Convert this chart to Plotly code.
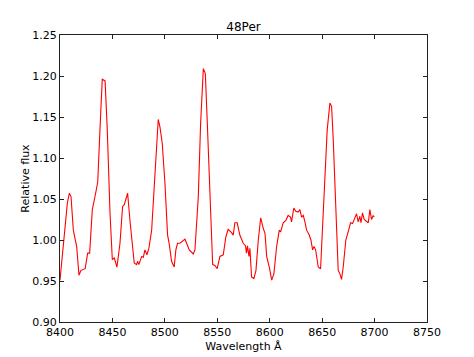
import plotly.graph_objects as go

wavelength = [8400, 8404.8, 8407, 8408.9, 8410.5, 8412.7, 8415.9, 8418.1, 8420, 8424, 8426.4, 8428.3,
              8430.8, 8434, 8436, 8438.1, 8440.3, 8443, 8445.1, 8447.7, 8449.9, 8451.8, 8454.3, 8457.2,
              8459.7, 8461.3, 8462.9, 8464.5, 8466.7, 8468.9, 8470.8, 8473, 8474, 8475.2, 8477.9, 8479.5,
              8481, 8482.9, 8484.8, 8487.4, 8489.8, 8491.5, 8493.7, 8495.3, 8497.5, 8500.1, 8502.6, 8504.2,
              8506.4, 8508.9, 8510.5, 8512.1, 8514.4, 8519.2, 8523.3, 8527.1, 8528.7, 8531.9, 8534.1,
              8536.7, 8538.6, 8540.5, 8543.1, 8545.6, 8547.8, 8549.9, 8552.5, 8555.7, 8558.2, 8560.4,
              8563.6, 8565.2, 8566.8, 8569, 8571.5, 8574.7, 8576.9, 8577.8, 8578.8, 8580.2, 8581.1,
              8582.7, 8584.9, 8586.9, 8589.1, 8591.4, 8593.9, 8595.5, 8597.1, 8599.6, 8601.9, 8604,
              8606.6, 8609.1, 8610.4, 8612.9, 8615.4, 8617.6, 8619.8, 8620.8, 8623, 8624.9, 8627.1,
              8628.8, 8630.4, 8632, 8633.6, 8635.2, 8637.7, 8639.3, 8640.9, 8642.2, 8643.8, 8646.3,
              8648.5, 8650.5, 8652.6, 8654.8, 8657.4, 8659, 8660.6, 8663.1, 8665.3, 8666.9, 8668.5,
              8670.1, 8672.6, 8674.8, 8677.1, 8679, 8681.2, 8682.8, 8684.4, 8686, 8687, 8688.5, 8690.1,
              8692.4, 8694, 8695.5, 8697.1, 8698.7, 8699.6]
flux = [0.951, 1.022, 1.045, 1.057, 1.053, 1.012, 0.992, 0.957, 0.963, 0.965, 0.984, 0.984,
        1.037, 1.057, 1.071, 1.134, 1.196, 1.194, 1.134, 1.033, 0.976, 0.978, 0.967, 0.996,
        1.041, 1.043, 1.051, 1.057, 1.024, 1.000, 0.972, 0.970, 0.974, 0.970, 0.980, 0.979,
        0.988, 0.982, 0.990, 1.012, 1.065, 1.102, 1.147, 1.138, 1.118, 1.069, 1.006, 0.995,
        0.974, 0.967, 0.988, 0.996, 0.996, 1.001, 0.988, 0.983, 0.988, 1.053, 1.142,
        1.209, 1.203, 1.142, 1.045, 0.970, 0.969, 0.965, 0.980, 0.982, 1.004, 1.013,
        1.009, 1.006, 1.021, 1.021, 1.006, 0.996, 0.993, 0.984, 0.993, 0.980, 0.990,
        0.955, 0.953, 0.963, 1.000, 1.027, 1.014, 1.008, 0.980, 0.967, 0.951, 0.959,
        0.992, 1.012, 1.010, 1.021, 1.024, 1.030, 1.028, 1.022, 1.039, 1.035, 1.034,
        1.037, 1.028, 1.030, 1.022, 1.012, 1.006, 1.000, 0.988, 0.992, 0.988, 0.967,
        0.965, 1.016, 1.085, 1.134, 1.167, 1.163, 1.122, 1.041, 0.963, 0.959, 0.952,
        0.967, 1.000, 1.010, 1.021, 1.020, 1.027, 1.032, 1.022, 1.029, 1.021, 1.033, 1.025,
        1.022, 1.021, 1.037, 1.025, 1.030, 1.028]

x_ticks = [8400, 8450, 8500, 8550, 8600, 8650, 8700, 8750]
y_ticks = [0.90, 0.95, 1.00, 1.05, 1.10, 1.15, 1.20, 1.25]

fig = go.Figure()
fig.add_trace(go.Scatter(x=wavelength, y=flux, mode="lines",
                         line=dict(color="#ff0000", width=1.1), showlegend=False))

axis_common = dict(showline=True, linecolor="#222222", linewidth=1, mirror="ticks",
                   ticks="inside", ticklen=4, tickcolor="#222222", showgrid=False,
                   zeroline=False, automargin=False,
                   tickfont=dict(family="DejaVu Sans", size=11, color="black"))

# page body has an 8px margin; margins compensate so the plot area sits where the reference's does
fig.update_layout(
    width=474, height=357,
    margin=dict(l=52, r=55, t=27, b=43),
    paper_bgcolor="white", plot_bgcolor="white",
    title=dict(text="48Per", x=0.5, xanchor="center", xref="paper",
               y=1 - 19 / 357, yanchor="middle", yref="container",
               font=dict(family="DejaVu Sans", size=12, color="black")),
    xaxis=dict(range=[8400, 8750], tickvals=x_ticks, ticktext=[str(t) for t in x_ticks],
               title=dict(text="Wavelength Å", standoff=4,
                          font=dict(family="DejaVu Sans", size=11, color="black")),
               **axis_common),
    yaxis=dict(range=[0.90, 1.25], tickvals=y_ticks, ticktext=[f"{t:.2f}" for t in y_ticks],
               title=dict(text="Relative flux", standoff=0,
                          font=dict(family="DejaVu Sans", size=11, color="black")),
               **axis_common),
)

fig.write_html("out.html")
